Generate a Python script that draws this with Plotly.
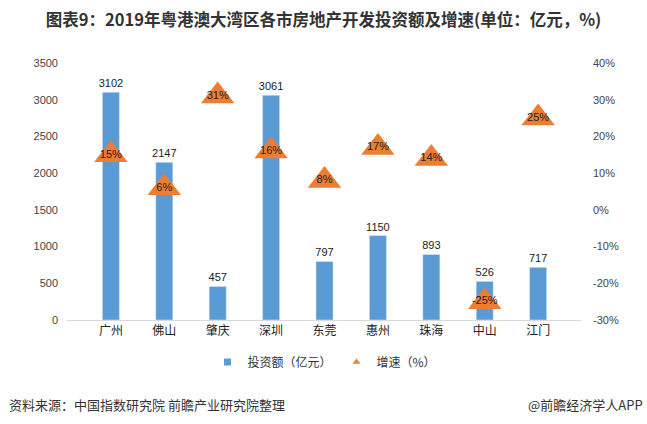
import plotly.graph_objects as go

cities = ["广州", "佛山", "肇庆", "深圳", "东莞", "惠州", "珠海", "中山", "江门"]
investment = [3102, 2147, 457, 3061, 797, 1150, 893, 526, 717]
growth = [15, 6, 31, 16, 8, 17, 14, -25, 25]
right_ticks = [-30, -20, -10, 0, 10, 20, 30, 40]

font_cn = "Noto Sans CJK SC"
BLUE = "#5B9BD5"
ORANGE = "#ED7D31"

fig = go.Figure()
fig.add_trace(go.Bar(
    x=cities, y=investment, name="投资额（亿元）", showlegend=False,
    marker=dict(color=BLUE), width=0.32,
    text=[str(v) for v in investment], textposition="outside", constraintext="none",
    textfont=dict(size=11, color="#222222", family="Liberation Sans"),
    cliponaxis=False,
))
fig.add_trace(go.Scatter(
    x=cities, y=growth, name="增速（%）", yaxis="y2", mode="markers+text", showlegend=False,
    marker=dict(symbol="triangle-up", size=29, color=ORANGE, line=dict(width=0)),
    text=[f"{v}%" for v in growth], textposition="middle center",
    textfont=dict(size=11, color="#222222", family="Liberation Sans"),
    cliponaxis=False,
))
# legend-only entries
fig.add_trace(go.Scatter(x=[None], y=[None], mode="markers", name="投资额（亿元）",
                         marker=dict(symbol="square", size=7, color=BLUE)))
fig.add_trace(go.Scatter(x=[None], y=[None], mode="markers", name="增速（%）",
                         marker=dict(symbol="triangle-up", size=7, color=ORANGE)))

fig.update_layout(
    width=647, height=424,
    margin=dict(l=67, r=65, t=63, b=104),
    paper_bgcolor="white", plot_bgcolor="white",
    font=dict(family=font_cn, size=11, color="#333333"),
    title=dict(text="<b>图表9：2019年粤港澳大湾区各市房地产开发投资额及增速(单位：亿元，%)</b>",
               x=0.5, xanchor="center", y=0.953, yanchor="middle",
               font=dict(size=16.5, color="#333333", family=font_cn)),
    xaxis=dict(showgrid=False, showline=True, linecolor="#D9D9D9", linewidth=1,
               ticks="", tickfont=dict(size=12, color="#222222", family=font_cn)),
    yaxis=dict(range=[0, 3500], dtick=500, showgrid=False, zeroline=False,
               showline=False, ticks="", tickfont=dict(size=11, color="#444444", family="Liberation Sans"),
               ticklabelstandoff=8),
    yaxis2=dict(range=[-30, 40], overlaying="y", side="right",
                tickvals=right_ticks, ticktext=[f"{v}%" for v in right_ticks],
                showgrid=False, zeroline=False, showline=False,
                tickfont=dict(size=11, color="#444444", family="Liberation Sans"),
                ticklabelstandoff=10),
    legend=dict(orientation="h", x=0.5, xanchor="center", y=-0.163, yanchor="middle",
                font=dict(size=12, color="#333333", family=font_cn),
                itemwidth=30, traceorder="normal"),
    showlegend=True,
)

fig.add_annotation(text="资料来源：中国指数研究院 前瞻产业研究院整理", xref="paper", yref="paper",
                   x=-0.117, xanchor="left", y=-0.327, yanchor="middle", showarrow=False,
                   font=dict(size=13, color="#333333", family=font_cn))
fig.add_annotation(text="@前瞻经济学人APP", xref="paper", yref="paper",
                   x=1.122, xanchor="right", y=-0.327, yanchor="middle", showarrow=False,
                   font=dict(size=13, color="#333333", family=font_cn))

fig.write_html("out.html")
